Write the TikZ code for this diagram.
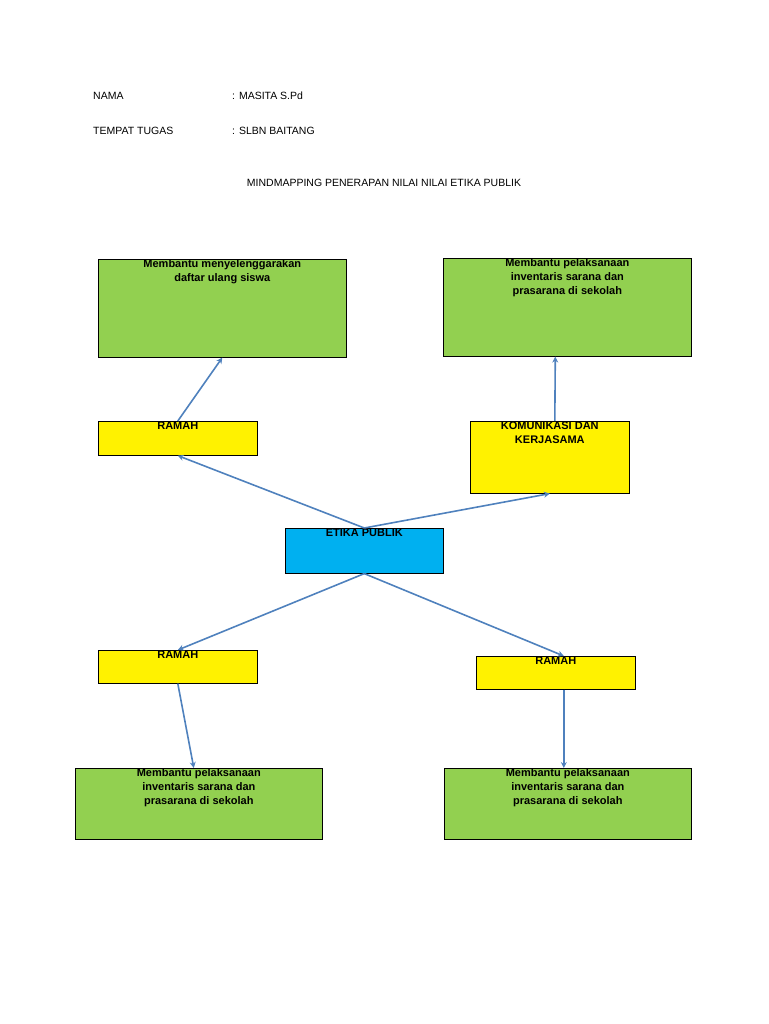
\documentclass[tikz,border=0pt]{standalone}
\usepackage{fontspec}
\setmainfont{Liberation Sans}
\usetikzlibrary{arrows.meta}
\begin{document}
\begin{tikzpicture}[x=1pt,y=-1pt,
 box/.style={draw=black,line width=0.6pt,anchor=north west,inner sep=0pt},
 gbox/.style={box,fill=green!55!lime!70!yellow},
 ybox/.style={box,fill=yellow},
 txt/.style={font=\bfseries\fontsize{11}{14}\selectfont,align=center},
 arr/.style={draw={rgb,255:red,79;green,129;blue,189},line width=1.6pt,-{Stealth[length=6pt,width=6pt]}},
 hdr/.style={font=\fontsize{10.5}{13}\selectfont,anchor=base west,inner sep=0pt}]
\useasboundingbox (0,0) rectangle (768,1024);
\definecolor{gfill}{RGB}{146,208,80}
\definecolor{cfill}{RGB}{0,176,240}
\node[hdr] (n1) at (93,100) {NAMA};
\node[hdr] (n2) at (232,100) {: MASITA S.Pd};
\node[hdr] (t1) at (93,135) {TEMPAT TUGAS};
\node[hdr] (t2) at (232,135) {: SLBN BAITANG};
\node[hdr,anchor=base] (ttl) at (384,187) {MINDMAPPING PENERAPAN NILAI NILAI ETIKA PUBLIK};

\node[box,fill=gfill,minimum width=248,minimum height=98] (g1) at (98,259) {};
\node[txt,anchor=north] (g1t) at ([yshift=3]g1.north) {Membantu menyelenggarakan\\daftar ulang siswa};
\node[box,fill=gfill,minimum width=248,minimum height=98] (g2) at (443,258) {};
\node[txt,anchor=north] (g2t) at ([yshift=3]g2.north) {Membantu pelaksanaan\\inventaris sarana dan\\prasarana di sekolah};
\node[box,fill=yellow,minimum width=159,minimum height=34] (r1) at (98,421) {};
\node[txt,anchor=north] (r1t) at ([yshift=3]r1.north) {RAMAH};
\node[box,fill=yellow,minimum width=159,minimum height=72] (k) at (470,421) {};
\node[txt,anchor=north] (kt) at ([yshift=3]k.north) {KOMUNIKASI DAN\\KERJASAMA};
\node[box,fill=cfill,minimum width=158,minimum height=45] (e) at (285,528) {};
\node[txt,anchor=north] (et) at ([yshift=3]e.north) {ETIKA PUBLIK};
\node[box,fill=yellow,minimum width=159,minimum height=33] (r2) at (98,650) {};
\node[txt,anchor=north] (r2t) at ([yshift=3]r2.north) {RAMAH};
\node[box,fill=yellow,minimum width=159,minimum height=33] (r3) at (476,656) {};
\node[txt,anchor=north] (r3t) at ([yshift=3]r3.north) {RAMAH};
\node[box,fill=gfill,minimum width=247,minimum height=71] (g3) at (75,768) {};
\node[txt,anchor=north] (g3t) at ([yshift=3]g3.north) {Membantu pelaksanaan\\inventaris sarana dan\\prasarana di sekolah};
\node[box,fill=gfill,minimum width=247,minimum height=71] (g4) at (444,768) {};
\node[txt,anchor=north] (g4t) at ([yshift=3]g4.north) {Membantu pelaksanaan\\inventaris sarana dan\\prasarana di sekolah};

\draw[arr] (r1.north) -- (g1.south);
\draw[arr] ([xshift=5]k.north) -- ([xshift=-12]g2.south);
\draw[arr] (e.north) -- (r1.south);
\draw[arr] (e.north) -- (k.south);
\draw[arr] (e.south) -- (r2.north);
\draw[arr] (e.south) -- ([xshift=8]r3.north);
\draw[arr] (r2.south) -- ([xshift=-5]g3.north);
\draw[arr] ([xshift=8]r3.south) -- ([xshift=-4]g4.north);
\end{tikzpicture}
\end{document}
